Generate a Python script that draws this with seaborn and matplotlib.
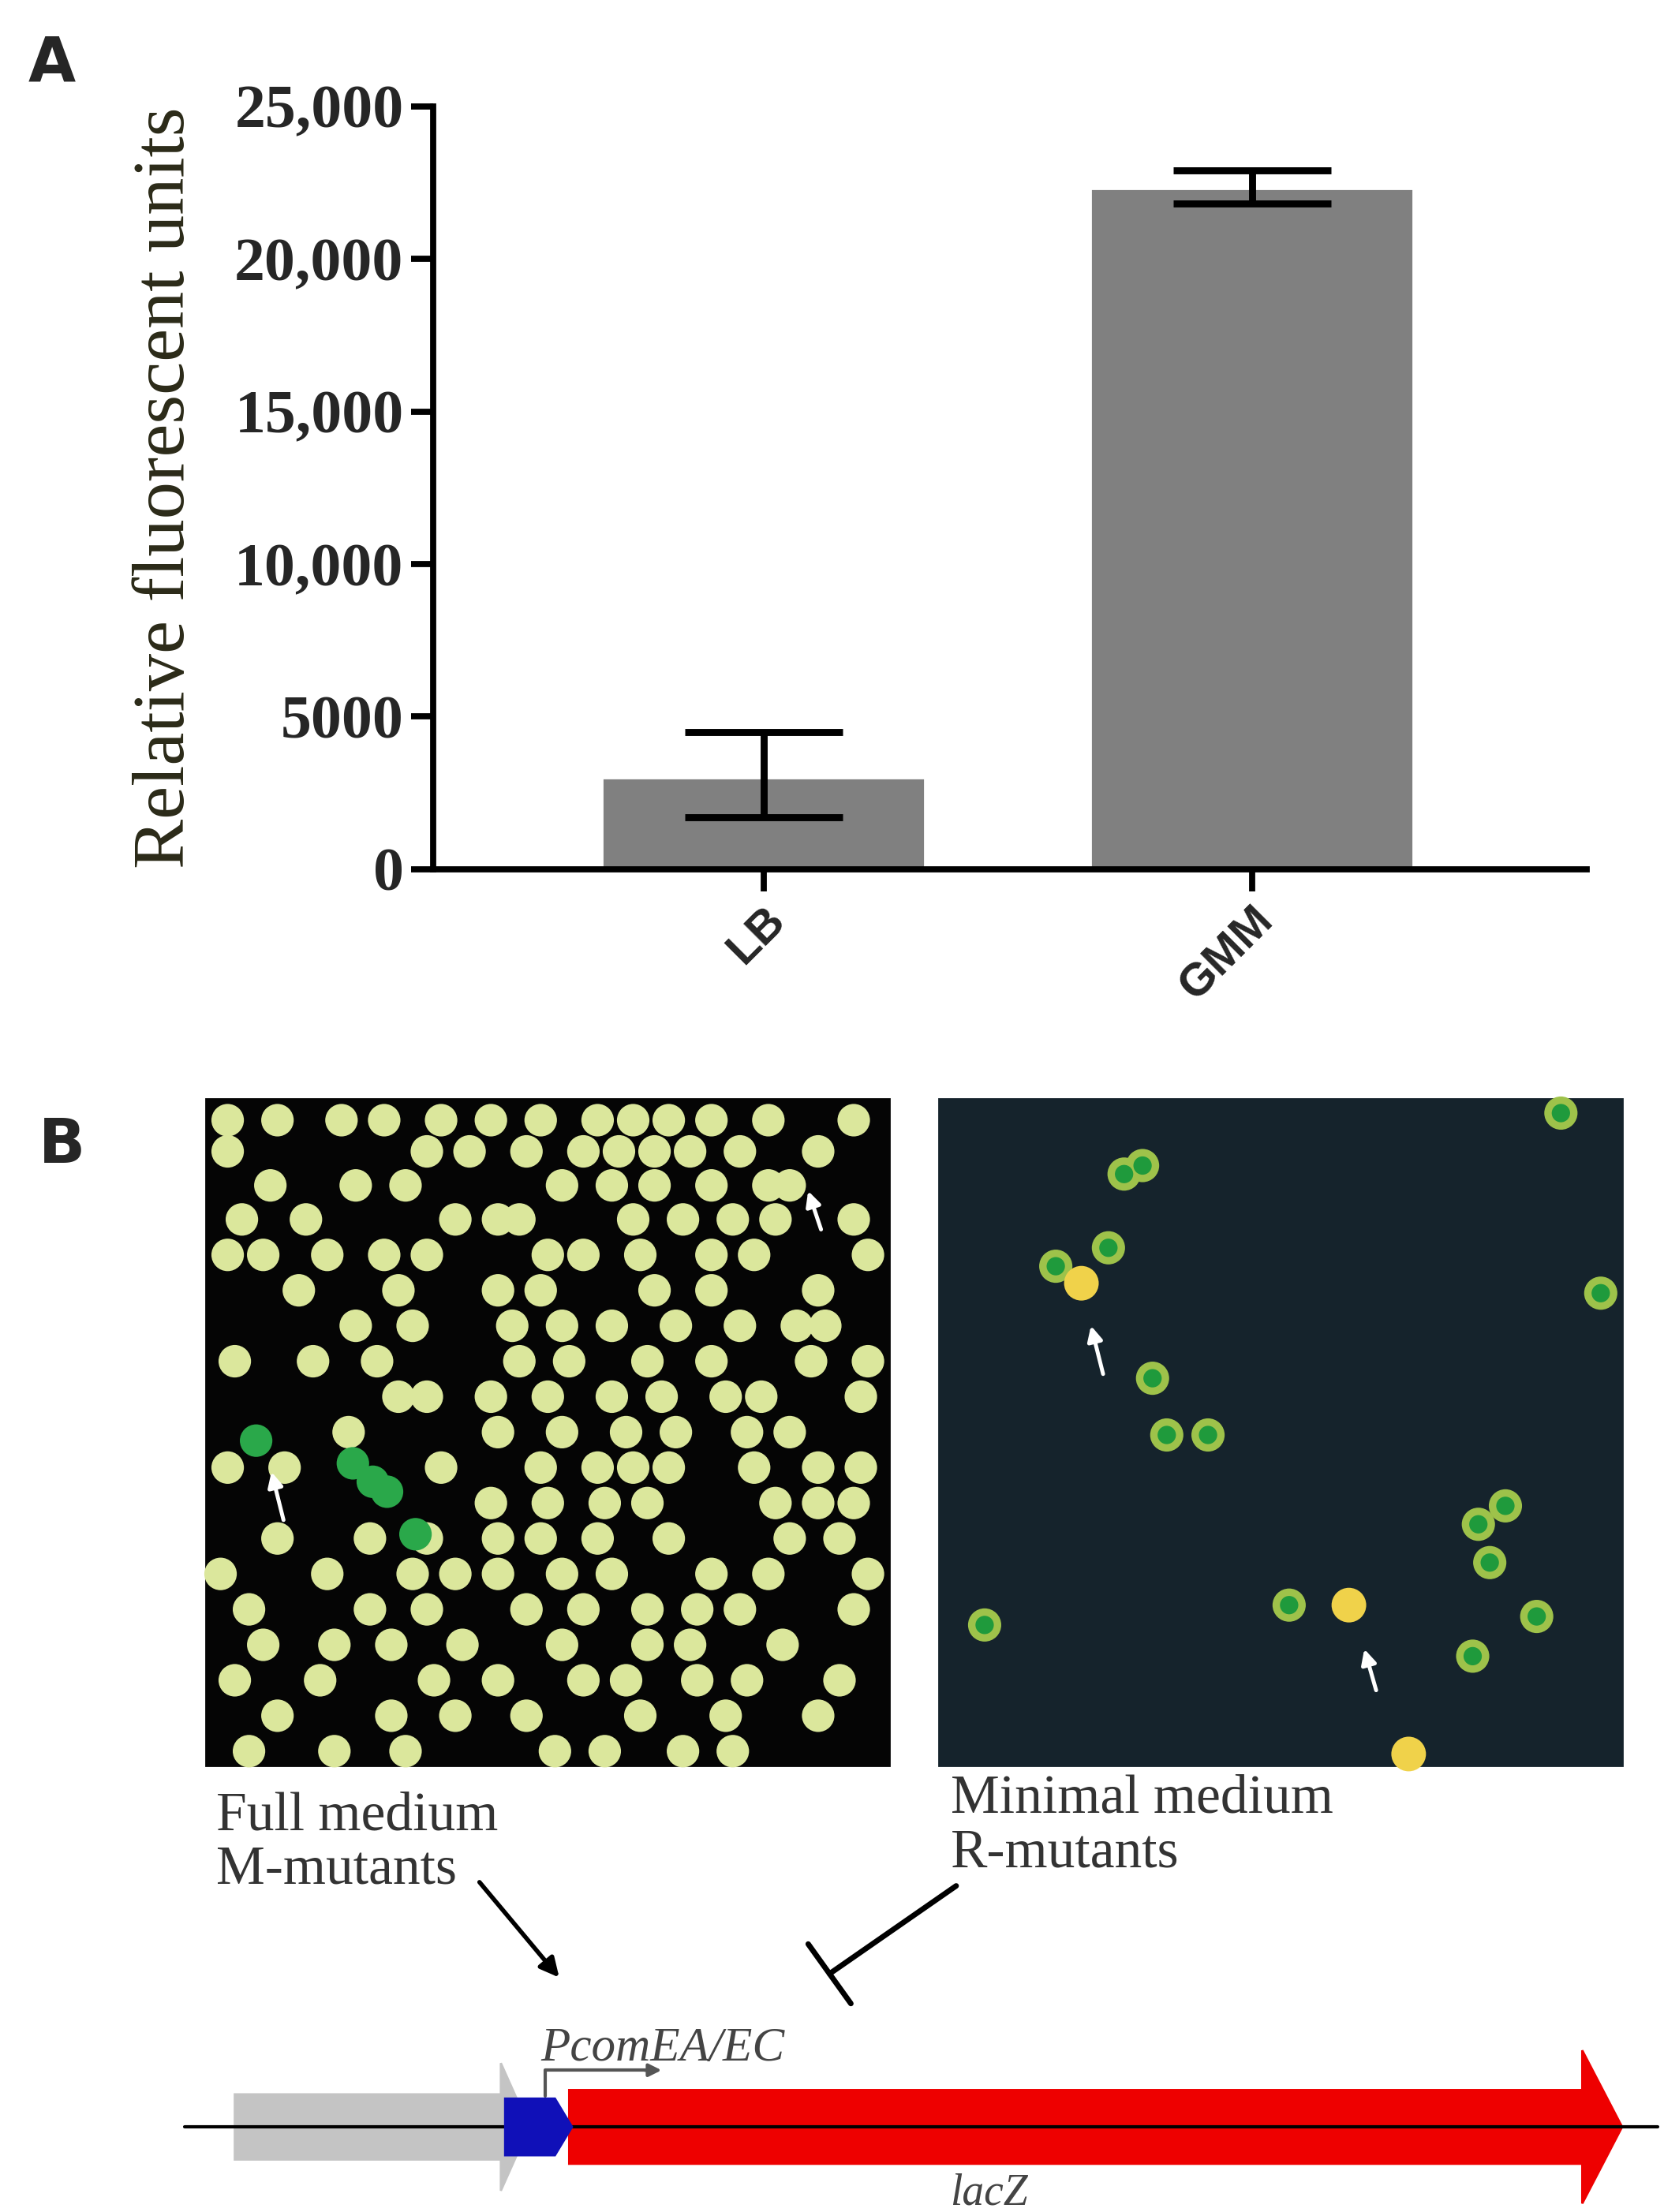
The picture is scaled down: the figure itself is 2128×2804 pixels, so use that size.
import matplotlib
matplotlib.use("Agg")
import matplotlib.pyplot as plt
import seaborn as sns
import pandas as pd
import numpy as np
from matplotlib.patches import Polygon, Rectangle

categories = ["LB", "GMM"]
means = [3000, 22300]
err_low = [1300, 500]
err_high = [1500, 600]
yticks = [0, 5000, 10000, 15000, 20000, 25000]
ytick_labels = ["0", "5000", "10,000", "15,000", "20,000", "25,000"]

# colony positions in panel B (display pixel frame), rows: y -> list of x
left_rows = {
    790: [160, 195, 240, 270, 310, 345, 380, 420, 445, 470, 500, 540, 600],
    812: [160, 300, 330, 370, 410, 435, 460, 485, 520, 575],
    836: [190, 250, 285, 395, 430, 460, 500, 540, 555],
    860: [170, 215, 320, 350, 365, 445, 480, 515, 545, 600],
    885: [160, 185, 230, 270, 300, 385, 410, 450, 500, 530, 610],
    910: [210, 280, 350, 380, 460, 500, 575],
    935: [250, 290, 360, 395, 430, 475, 520, 560, 580],
    960: [165, 220, 265, 365, 400, 455, 500, 570, 610],
    985: [280, 300, 345, 385, 430, 465, 510, 535, 605],
    1010: [245, 350, 395, 440, 475, 525, 555],
    1035: [160, 200, 310, 380, 420, 445, 470, 530, 575, 605],
    1060: [345, 385, 425, 455, 545, 575, 600],
    1085: [195, 260, 300, 350, 380, 420, 470, 555, 590],
    1110: [155, 230, 290, 320, 350, 395, 430, 500, 540, 610],
    1135: [175, 260, 300, 370, 410, 455, 490, 520, 600],
    1160: [185, 235, 275, 325, 395, 455, 485, 550],
    1185: [165, 225, 305, 350, 410, 440, 490, 525, 590],
    1210: [195, 275, 320, 370, 450, 510, 575],
    1235: [175, 235, 285, 390, 425, 480, 515],
}
left_green_x = [180, 248, 262, 272, 292]
left_green_y = [1016, 1032, 1045, 1052, 1082]
right_green_x = [803, 790, 1097, 742, 779, 1125, 810, 820, 849, 1058, 1039, 1047, 906, 692, 1080, 1035]
right_green_y = [822, 828, 785, 893, 880, 912, 972, 1012, 1012, 1062, 1075, 1102, 1132, 1146, 1140, 1168]
right_yellow_x = [760, 948, 990]
right_yellow_y = [905, 1132, 1237]

W, H = 1180, 1560
fig = plt.figure(figsize=(10.64, 14.02), dpi=200)
sns.set_theme(style="white")
plt.rcParams['font.family'] = ['DejaVu Sans']

# Panel A
ax = fig.add_axes([0.258, 0.607, 0.687, 0.345])
df = pd.DataFrame({"cat": categories, "val": means})
sns.barplot(data=df, x="cat", y="val", color="#808080", saturation=1, width=0.66, ax=ax, errorbar=None)
ax.errorbar([0, 1], means, yerr=[err_low, err_high], fmt="none", ecolor="black",
            elinewidth=3.2, capsize=36, capthick=3.2)
ax.set_ylim(0, 25000)
ax.set_xlim(-0.676, 1.685)
ax.set_yticks(yticks)
ax.set_yticklabels(ytick_labels, fontfamily="Liberation Serif", fontweight="bold", fontsize=28)
ax.set_xticks([0, 1])
ax.set_xticklabels(categories, rotation=45, fontsize=21, fontweight="bold", fontfamily="Liberation Sans",
                   ha="right", rotation_mode="anchor")
ax.set_xlabel("")
ax.set_ylabel("Relative fluorescent units", fontfamily="Liberation Serif", fontsize=34, color="#2b2a18", labelpad=16)
for s in ["top", "right"]:
    ax.spines[s].set_visible(False)
for s in ["left", "bottom"]:
    ax.spines[s].set_linewidth(2.8)
    ax.spines[s].set_color("black")
ax.tick_params(axis="both", which="both", length=10, width=2.8, color="black", direction="out",
               left=True, bottom=True)

# Panel B overlay
bx = fig.add_axes([0, 0, 1, 1])
bx.set_xlim(0, W)
bx.set_ylim(H, 0)
bx.axis("off")
bx.patch.set_alpha(0)

fig.text(20 / W, 1 - 45 / H, "A", fontsize=28, fontweight="bold", va="center", ha="left")
fig.text(27 / W, 1 - 808 / H, "B", fontsize=28, fontweight="bold", va="center", ha="left")

bx.add_patch(Rectangle((145, 775), 480, 470, color="#050505", zorder=1))
bx.add_patch(Rectangle((660, 775), 480, 470, color="#15232c", zorder=1))

lx, ly = [], []
for y, xs in left_rows.items():
    lx += xs
    ly += [y] * len(xs)
sns.scatterplot(x=lx, y=ly, s=220, color="#dbe79c", edgecolor="none", ax=bx, zorder=2, legend=False)
sns.scatterplot(x=left_green_x, y=left_green_y, s=220, color="#2aa84a", edgecolor="none", ax=bx, zorder=3, legend=False)
sns.scatterplot(x=right_green_x, y=right_green_y, s=230, color="#9ec24a", edgecolor="none", ax=bx, zorder=2, legend=False)
sns.scatterplot(x=right_green_x, y=right_green_y, s=70, color="#1f9a3c", edgecolor="none", ax=bx, zorder=3, legend=False)
sns.scatterplot(x=right_yellow_x, y=right_yellow_y, s=250, color="#f0d24a", edgecolor="none", ax=bx, zorder=3, legend=False)
bx.set_xlim(0, W)
bx.set_ylim(H, 0)

for (x0, y0, x1, y1) in [(200, 1075, 190, 1035), (578, 870, 567, 837), (776, 972, 766, 932), (968, 1195, 958, 1160)]:
    bx.annotate("", xy=(x1, y1), xytext=(x0, y0),
                arrowprops=dict(arrowstyle="-|>", color="white", lw=1.8, mutation_scale=14), zorder=4)

bx.text(152, 1300, "Full medium\nM-mutants", fontfamily="Liberation Serif", fontsize=25, color="#333333",
        va="center", ha="left", linespacing=1.1)
bx.text(668, 1288, "Minimal medium\nR-mutants", fontfamily="Liberation Serif", fontsize=25, color="#333333",
        va="center", ha="left", linespacing=1.1)
bx.annotate("", xy=(395, 1397), xytext=(335, 1325),
            arrowprops=dict(arrowstyle="-|>", color="black", lw=2, mutation_scale=18))
bx.plot([672, 583], [1330, 1392], color="black", lw=2.5)
bx.plot([568, 598], [1371, 1413], color="black", lw=2.5)

bx.text(380, 1445, "PcomEA/EC", fontfamily="Liberation Serif", fontstyle="italic", fontsize=22,
        color="#444444", va="center", ha="left")
bx.plot([383, 383, 455], [1478, 1460, 1460], color="#555555", lw=1.5)
bx.annotate("", xy=(468, 1460), xytext=(450, 1460),
            arrowprops=dict(arrowstyle="-|>", color="#555555", lw=1.5, mutation_scale=12))

bx.plot([130, 1165], [1500, 1500], color="black", lw=1.5, zorder=2)
bx.add_patch(Polygon([(165, 1477), (352, 1477), (352, 1455), (372, 1500), (352, 1545), (352, 1523), (165, 1523)],
                     closed=True, color="#c4c4c4", zorder=1))
bx.add_patch(Polygon([(355, 1480), (390, 1480), (402, 1500), (390, 1520), (355, 1520)],
                     closed=True, color="#1010b8", zorder=3))
bx.add_patch(Polygon([(400, 1474), (1112, 1474), (1112, 1446), (1140, 1500), (1112, 1554), (1112, 1526), (400, 1526)],
                     closed=True, color="#ee0000", zorder=1))
bx.text(695, 1547, "lacZ", fontfamily="Liberation Serif", fontstyle="italic", fontsize=20, color="#444444",
        va="center", ha="center")

fig.savefig("out.png", dpi=200, facecolor="white")
